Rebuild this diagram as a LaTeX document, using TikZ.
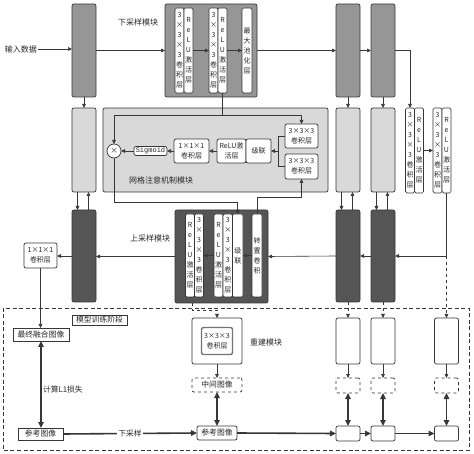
\documentclass[tikz,border=0pt]{standalone}
\usepackage{fontspec}
\setmainfont{Noto Sans CJK SC}
\newfontfamily\monof{Liberation Mono}
\usetikzlibrary{arrows.meta,calc}
\definecolor{encg}{RGB}{150,150,150}
\definecolor{decg}{RGB}{85,85,85}
\definecolor{lightg}{RGB}{217,217,217}
\definecolor{edge}{RGB}{55,55,55}
\definecolor{txt}{RGB}{40,40,40}
\begin{document}
\begin{tikzpicture}[x=1pt,y=-1pt,
  every node/.style={inner sep=0pt,outer sep=0pt,text=txt},
  blk/.style={draw=edge,line width=0.7pt,rounded corners=2pt},
  encbox/.style={blk,fill=encg,minimum width=24pt,minimum height=93pt},
  decbox/.style={blk,fill=decg,minimum width=24pt,minimum height=92pt},
  litebox/.style={blk,fill=lightg,minimum width=24pt,minimum height=84pt},
  strip/.style={blk,fill=white,rounded corners=1.5pt,align=center,minimum width=9pt,font=\fontsize{7}{10}\selectfont},
  ibox/.style={blk,fill=white,align=center,font=\fontsize{7}{10}\selectfont},
  lbl/.style={font=\fontsize{8}{10}\selectfont},
  wbox/.style={blk,fill=white,minimum width=24pt},
  dbox/.style={draw=edge,line width=0.7pt,dashed,rounded corners=2pt,fill=white,minimum width=24pt,minimum height=15pt},
  arr/.style={draw=edge,line width=0.6pt,-{Triangle[length=4pt,width=3.6pt]}},
  ln/.style={draw=edge,line width=0.6pt},
  tarr/.style={draw=edge,line width=1.6pt,-{Triangle[length=6pt,width=5.5pt]}},
  darr/.style={draw=edge,line width=1.6pt,{Triangle[length=6pt,width=5.5pt]}-{Triangle[length=6pt,width=5.5pt]}}
]
\useasboundingbox (0,0) rectangle (474,454);
\fill[white] (0,0) rectangle (474,454);

% ---------- encoder ----------
\node[lbl] (inp) at (21,49) {输入数据};
\node[encbox] (e1) at (84,50.5) {};
\node[lbl] (dslbl) at (138,22) {下采样模块};
\node[blk,fill=encg,minimum width=92pt,minimum height=93pt] (dsm) at (211,50.5) {};
\node[strip,minimum height=85pt] (s1) at (179.5,50.5) {3\\×\\3\\×\\3\\卷\\积\\层};
\node[strip,minimum height=85pt] (s2) at (188.5,50.5) {R\\e\\L\\U\\激\\活\\层};
\node[strip,minimum height=85pt] (s3) at (213.5,50.5) {3\\×\\3\\×\\3\\卷\\积\\层};
\node[strip,minimum height=85pt] (s4) at (222.5,50.5) {R\\e\\L\\U\\激\\活\\层};
\node[strip,minimum height=85pt,minimum width=10pt] (s5) at (247,50.5) {最\\大\\池\\化\\层};
\node[encbox] (e2) at (348,50.5) {};
\node[encbox] (e3) at (383,50.5) {};

% ---------- skip / attention row ----------
\node[litebox] (a1) at (84,150) {};
\node[litebox] (a2) at (348,150) {};
\node[litebox] (a3) at (383,150) {};
\node[strip,minimum height=85pt] (b1) at (410,150.5) {3\\×\\3\\×\\3\\卷\\积\\层};
\node[strip,minimum height=85pt] (b2) at (419,150.5) {R\\e\\L\\U\\激\\活\\层};
\node[strip,minimum height=85pt] (b3) at (437.5,150.5) {3\\×\\3\\×\\3\\卷\\积\\层};
\node[strip,minimum height=85pt] (b4) at (446.5,150.5) {R\\e\\L\\U\\激\\活\\层};

\node[blk,fill=lightg,minimum width=225pt,minimum height=84pt] (att) at (215.5,150) {};
\node[circle,draw=edge,line width=0.7pt,fill=white,minimum size=14pt,font=\fontsize{7.5}{8}\selectfont] (mult) at (114,151) {×};
\node[blk,fill=white,minimum width=33pt,minimum height=9pt,font=\monof\fontsize{7}{7}\selectfont] (sig) at (150.5,151) {Sigmoid};
\node[ibox,minimum width=35pt,minimum height=24pt] (c111) at (191.5,151) {1×1×1\\卷积层};
\node[ibox,minimum width=29pt,minimum height=24pt] (relu) at (231.5,151) {ReLU激\\活层};
\node[ibox,minimum width=25pt,minimum height=24pt] (cat) at (258.5,151) {级联};
\node[ibox,minimum width=33pt,minimum height=24pt] (convT) at (301.5,136) {3×3×3\\卷积层};
\node[ibox,minimum width=33pt,minimum height=25pt] (convB) at (301.5,166.5) {3×3×3\\卷积层};
\node[lbl] (attlbl) at (161,180) {网格注意机制模块};

% ---------- decoder ----------
\node[decbox] (d1) at (84,256) {};
\node[decbox] (d2) at (348,256) {};
\node[decbox] (d3) at (383,256) {};
\node[lbl] (uplbl) at (150,238) {上采样模块};
\node[blk,fill=decg,minimum width=93pt,minimum height=93pt] (dum) at (221.5,256.5) {};
\node[strip,minimum height=83pt] (t1) at (190,255.5) {R\\e\\L\\U\\激\\活\\层};
\node[strip,minimum height=83pt] (t2) at (199,255.5) {3\\×\\3\\×\\3\\卷\\积\\层};
\node[strip,minimum height=83pt] (t3) at (218.5,255.5) {R\\e\\L\\U\\激\\活\\层};
\node[strip,minimum height=83pt,minimum width=9.5pt] (t4) at (227.75,255.5) {3\\×\\3\\×\\3\\卷\\积\\层};
\node[strip,minimum height=83pt,minimum width=10.5pt] (t5) at (237.75,255.5) {级\\联};
\node[strip,minimum height=83pt,minimum width=10pt] (t6) at (257,255.5) {转\\置\\卷\\积};
\node[ibox,minimum width=33pt,minimum height=25pt] (conv1) at (40.5,255.5) {1×1×1\\卷积层};

% ---------- training stage ----------
\draw[draw=edge,line width=0.7pt,dash pattern=on 4pt off 2.5pt] (3,308) rectangle (469,450);
\node[draw=edge,line width=0.6pt,fill=white,minimum width=55pt,minimum height=10pt,font=\fontsize{7.8}{8}\selectfont] (trlbl) at (99.5,320) {模型训练阶段};
\node[draw=edge,line width=0.6pt,fill=white,minimum width=56pt,minimum height=13pt,font=\fontsize{7.8}{8}\selectfont] (fusion) at (41,334.5) {最终融合图像};
\node[draw=edge,line width=0.6pt,fill=white,minimum width=45pt,minimum height=12pt,font=\fontsize{7.8}{8}\selectfont] (ref1) at (40.5,434) {参考图像};
\node[lbl,anchor=west,font=\fontsize{7.8}{8}\selectfont] (l1lbl) at (43,390) {计算L1损失};
\node[wbox,minimum width=50pt,minimum height=46pt] (recon) at (217,341) {};
\node[draw=edge!70,line width=1.4pt,rounded corners=2pt,fill=white,minimum width=31pt,minimum height=27pt,align=center,font=\fontsize{7}{10}\selectfont] (reconin) at (217,341) {3×3×3\\卷积层};
\node[lbl] (rclbl) at (266,342) {重建模块};
\node[dbox,minimum width=50pt,minimum height=14pt,font=\fontsize{7.8}{8}\selectfont] (mid) at (217,385) {中间图像};
\node[blk,fill=white,minimum width=40pt,minimum height=14pt,font=\fontsize{7.8}{8}\selectfont] (ref2) at (217,433) {参考图像};
\node[wbox,minimum height=46pt] (w1) at (348,341) {};
\node[wbox,minimum height=46pt] (w2) at (383,341) {};
\node[wbox,minimum height=46pt] (w3) at (446.5,341) {};
\node[dbox] (m1) at (348,385.5) {};
\node[dbox] (m2) at (383,385.5) {};
\node[dbox] (m3) at (446.5,385.5) {};
\node[wbox,minimum height=15pt] (r1) at (348,433.5) {};
\node[wbox,minimum height=15pt] (r2) at (383,433.5) {};
\node[wbox,minimum height=15pt] (r3) at (446.5,433.5) {};

% ---------- connectors: encoder ----------
\draw[arr] (inp.east) ++(1,0) -- (inp.east -| e1.west);
\draw[arr] (e1.east) -- (dsm.west);
\draw[arr] (s2.east) -- (s3.west);
\draw[arr] (s4.east) -- (s4.east -| s5.west);
\draw[arr] (dsm.east) -- (e2.west);
\draw[arr] (e2.east) -- (e3.west);
\draw[arr] (e3.east) -| (b1.north);
\draw[arr] (b2.east) -- (b3.west);
\draw[arr] (e1.south) -- (a1.north);
\draw[arr] (e2.south) -- (a2.north);
\draw[arr] (e3.south) -- (a3.north);

% skip <-> decoder
\foreach \i in {1,2,3}{
  \draw[arr] ([xshift=-6.5pt]a\i.south) -- ([xshift=-6.5pt]d\i.north);
  \draw[arr] ([xshift=4.5pt]d\i.north) -- ([xshift=4.5pt]a\i.south);
}

% attention module
\coordinate (ktop) at (222.5,115);
\draw[ln] (s4.south) -- (ktop);
\draw[arr] (ktop) -| (mult.north);
\draw[arr] (ktop) -| (convT.north);
\coordinate (kbr) at (278,151);
\draw[ln] (convT.west) -| (kbr);
\draw[ln] (convB.west) -| (kbr);
\draw[arr] (kbr) -- (cat.east);
\draw[arr] (relu.west) -- (c111.east);
\draw[arr] (c111.west) -- (sig.east);
\draw[arr] (sig.west) -- (mult.east);
\coordinate (kbot) at (114,202);
\draw[arr] (mult.south) -- (kbot) -| (t5.north);
\coordinate (ktr) at (257,197);
\draw[arr] (t6.north) -- (ktr) -| (convB.south);

% decoder
\coordinate (kb) at (b4.south |- d3.east);
\draw[arr] (b4.south) -- (kb) -- (d3.east);
\draw[arr] (d3.west) -- (d2.east);
\draw[arr] (d2.west) -- (dum.east);
\draw[arr] (t6.west) -- (t5.east);
\draw[arr] (t3.west) -- (t2.east);
\draw[arr] (dum.west) -- (dum.west -| d1.east);
\draw[arr] (d1.west) -- (d1.west -| conv1.east);
\draw[arr] (conv1.south) -- (conv1.south |- fusion.north);

% deep supervision branches
\coordinate (kr1) at (192,303);
\coordinate (kr2) at (192,310);
\draw[arr,dashed] (kr1) -- (kr2) -| (recon.north);
\draw[arr,dashed] (d2.south) -- (w1.north);
\draw[arr,dashed] (d3.south) -- (w2.north);
\draw[arr,dashed] (kb) -- (w3.north);

% training stage connectors
\draw[arr] (recon.south) -- (mid.north);
\draw[arr] (w1.south) -- (m1.north);
\draw[arr] (w2.south) -- (m2.north);
\draw[arr] (w3.south) -- (m3.north);
\draw[darr] (fusion.south) -- (fusion.south |- ref1.north);
\draw[darr] (mid.south) -- (ref2.north);
\draw[darr] (m1.south) -- (r1.north);
\draw[darr] (m2.south) -- (r2.north);
\draw[darr] (m3.south) -- (r3.north);
\draw[tarr] (ref1.east) -- (ref2.west) node[midway,fill=white,inner xsep=1pt,inner ysep=1pt,font=\fontsize{7.8}{8}\selectfont] (dslbl2) {下采样};
\draw[tarr] (ref2.east) -- (r1.west);
\draw[tarr] (r1.east) -- (r2.west);
\draw[tarr] (r2.east) -- (r3.west);
\end{tikzpicture}
\end{document}
